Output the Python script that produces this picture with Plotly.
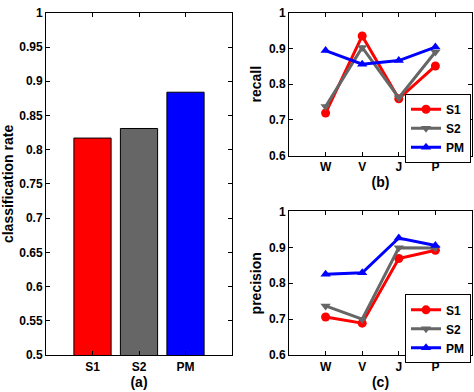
import plotly.graph_objects as go

# ---- data ----
methods = ["S1", "S2", "PM"]
class_rate = [0.817, 0.831, 0.884]

subjects = ["W", "V", "J", "P"]
recall_s1 = [0.719, 0.935, 0.759, 0.851]
recall_s2 = [0.737, 0.903, 0.762, 0.890]
recall_pm = [0.894, 0.856, 0.866, 0.904]

prec_s1 = [0.706, 0.689, 0.869, 0.892]
prec_s2 = [0.737, 0.700, 0.899, 0.898]
prec_pm = [0.825, 0.829, 0.926, 0.905]

ticks_a = [0.5, 0.55, 0.6, 0.65, 0.7, 0.75, 0.8, 0.85, 0.9, 0.95, 1.0]
ticks_a_txt = ["0.5", "0.55", "0.6", "0.65", "0.7", "0.75", "0.8", "0.85", "0.9", "0.95", "1"]
ticks_bc = [0.6, 0.7, 0.8, 0.9, 1.0]
ticks_bc_txt = ["0.6", "0.7", "0.8", "0.9", "1"]

colors = {"S1": "#ff0000", "S2": "#666666", "PM": "#0000ff"}
symbols = {"S1": "circle", "S2": "triangle-down", "PM": "triangle-up"}

W, H = 474, 392
def px_x(a, b):
    return [a / W, b / W]
def px_y(top, bottom):
    return [1 - bottom / H, 1 - top / H]

fig = go.Figure()

fig.add_trace(go.Bar(
    x=methods, y=class_rate,
    marker=dict(color=[colors[m] for m in methods], line=dict(color="black", width=1)),
    showlegend=False, xaxis="x", yaxis="y",
))

def add_lines(xa, ya, leg, series):
    for name, vals in series:
        fig.add_trace(go.Scatter(
            x=subjects, y=vals, name=name, mode="lines+markers",
            line=dict(color=colors[name], width=3),
            marker=dict(symbol=symbols[name], size=9, color=colors[name]),
            xaxis=xa, yaxis=ya, legend=leg,
        ))

add_lines("x2", "y2", "legend", [("S1", recall_s1), ("S2", recall_s2), ("PM", recall_pm)])
add_lines("x3", "y3", "legend2", [("S1", prec_s1), ("S2", prec_s2), ("PM", prec_pm)])

axis_common = dict(showline=True, linecolor="black", linewidth=1, mirror="ticks",
                   ticks="inside", ticklen=4, tickcolor="black", showgrid=False,
                   zeroline=False, tickfont=dict(size=12, color="black"))

leg_common = dict(bordercolor="black", borderwidth=1, bgcolor="white",
                  font=dict(size=12, color="black"), xanchor="left", yanchor="top",
                  tracegroupgap=0)

fig.update_layout(
    width=W, height=H, margin=dict(l=0, r=0, t=0, b=0),
    plot_bgcolor="white", paper_bgcolor="white",
    font=dict(family="Liberation Sans, Arial", size=12, color="black", weight="bold"),
    bargap=0.2,
    xaxis=dict(domain=px_x(46, 232), range=[-1, 3], anchor="y",
               title=dict(text="(a)", standoff=4), **axis_common),
    yaxis=dict(domain=px_y(6, 361), range=[0.5, 1.0], anchor="x",
               tickvals=ticks_a, ticktext=ticks_a_txt,
               title=dict(text="classification rate", standoff=4), **axis_common),
    xaxis2=dict(domain=px_x(289, 472), range=[-1, 4], anchor="y2",
                title=dict(text="(b)", standoff=4), **axis_common),
    yaxis2=dict(domain=px_y(6, 154), range=[0.6, 1.0], anchor="x2",
                tickvals=ticks_bc, ticktext=ticks_bc_txt,
                title=dict(text="recall", standoff=4), **axis_common),
    xaxis3=dict(domain=px_x(289, 472), range=[-1, 4], anchor="y3",
                title=dict(text="(c)", standoff=4), **axis_common),
    yaxis3=dict(domain=px_y(212, 361), range=[0.6, 1.0], anchor="x3",
                tickvals=ticks_bc, ticktext=ticks_bc_txt,
                title=dict(text="precision", standoff=4), **axis_common),
    legend=dict(x=405 / W, y=1 - 90 / H, **leg_common),
    legend2=dict(x=405 / W, y=1 - 298 / H, **leg_common),
)

fig.write_html("out.html", config={"displayModeBar": False},
               post_script="document.body.style.margin='0';document.body.style.overflow='hidden';")
